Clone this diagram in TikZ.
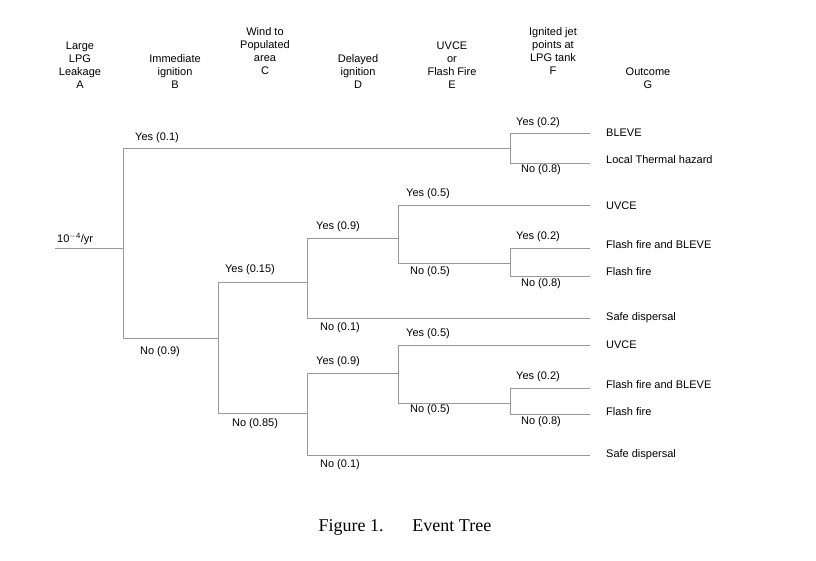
\documentclass[tikz,border=0pt]{standalone}
\usepackage{fontspec}
\setmainfont{Liberation Sans}
\newfontfamily\capfont{Liberation Serif}
\begin{document}
\begin{tikzpicture}[x=1pt,y=-1pt,
  br/.style={draw=gray!80,line width=0.6pt},
  hd/.style={align=center,font=\fontsize{11}{13}\selectfont,anchor=south,inner sep=1pt},
  lb/.style={font=\fontsize{11}{12}\selectfont,inner sep=1pt},
  yes/.style={lb,anchor=south},
  no/.style={lb,anchor=north},
  res/.style={lb,anchor=west}]
\useasboundingbox (0,0) rectangle (816,560);
% headers
\node[hd] (hA) at (80,90) {Large\\LPG\\Leakage\\A};
\node[hd] (hB) at (175,90) {Immediate\\ignition\\B};
\node[hd] (hC) at (265,76) {Wind to\\Populated\\area\\C};
\node[hd] (hD) at (358,90) {Delayed\\ignition\\D};
\node[hd] (hE) at (452,90) {UVCE\\or\\Flash Fire\\E};
\node[hd] (hF) at (553,76) {Ignited jet\\points at\\LPG tank\\F};
\node[hd] (hG) at (648,90) {Outcome\\G};
% coordinates
\coordinate (s) at (55,248);
\coordinate (a) at (123,248);
\coordinate (a1) at (123,148); \coordinate (a2) at (123,338);
\coordinate (f1) at (510,148); \coordinate (f1a) at (510,133); \coordinate (f1b) at (510,163);
\coordinate (c) at (218,338); \coordinate (c1) at (218,282); \coordinate (c2) at (218,413);
\coordinate (d1) at (307,282); \coordinate (d1a) at (307,238); \coordinate (d1b) at (307,318);
\coordinate (e1) at (398,238); \coordinate (e1a) at (398,205); \coordinate (e1b) at (398,263);
\coordinate (g1) at (510,263); \coordinate (g1a) at (510,248); \coordinate (g1b) at (510,276);
\coordinate (d2) at (307,413); \coordinate (d2a) at (307,373); \coordinate (d2b) at (307,455);
\coordinate (e2) at (398,373); \coordinate (e2a) at (398,345); \coordinate (e2b) at (398,403);
\coordinate (g2) at (510,403); \coordinate (g2a) at (510,388); \coordinate (g2b) at (510,414);
% outcomes
\node[res] (o1) at (605,133) {BLEVE};
\node[res] (o2) at (605,160) {Local Thermal hazard};
\node[res] (o3) at (605,206) {UVCE};
\node[res] (o4) at (605,245) {Flash fire and BLEVE};
\node[res] (o5) at (605,272) {Flash fire};
\node[res] (o6) at (605,318) {Safe dispersal};
\node[res] (o7) at (605,345) {UVCE};
\node[res] (o8) at (605,385) {Flash fire and BLEVE};
\node[res] (o9) at (605,412) {Flash fire};
\node[res] (o10) at (605,455) {Safe dispersal};
% branches
\draw[br] (s) -- (a) (a1) -- (a2);
\draw[br] (a1) -- (f1) (f1a) -- (f1b) (f1a) -- (590,133) (f1b) -- (590,163);
\draw[br] (a2) -- (c) (c1) -- (c2) (c1) -- (d1) (d1a) -- (d1b);
\draw[br] (d1a) -- (e1) (e1a) -- (e1b) (e1a) -- (590,205) (e1b) -- (g1) (g1a) -- (g1b)
  (g1a) -- (590,248) (g1b) -- (590,276) (d1b) -- (590,318);
\draw[br] (c2) -- (d2) (d2a) -- (d2b) (d2a) -- (e2) (e2a) -- (e2b) (e2a) -- (590,345)
  (e2b) -- (g2) (g2a) -- (g2b) (g2a) -- (590,388) (g2b) -- (590,414) (d2b) -- (590,455);
% labels
\node[lb,anchor=south west] (l0) at (56,246) {10$^{\mathrm{-4}}$/yr};
\node[yes] (y1) at (157,144) {Yes (0.1)};
\node[no] (n1) at (160,345) {No (0.9)};
\node[yes] (y2) at (250,276) {Yes (0.15)};
\node[no] (n2) at (255,417) {No (0.85)};
\node[yes] (y3) at (338,233) {Yes (0.9)};
\node[no] (n3) at (340,321) {No (0.1)};
\node[yes] (y4) at (338,368) {Yes (0.9)};
\node[no] (n4) at (340,458) {No (0.1)};
\node[yes] (y5) at (428,200) {Yes (0.5)};
\node[no] (n5) at (430,265) {No (0.5)};
\node[yes] (y6) at (428,340) {Yes (0.5)};
\node[no] (n6) at (430,403) {No (0.5)};
\node[yes] (y7) at (538,129) {Yes (0.2)};
\node[no] (n7) at (541,163) {No (0.8)};
\node[yes] (y8) at (538,243) {Yes (0.2)};
\node[no] (n8) at (541,277) {No (0.8)};
\node[yes] (y9) at (538,383) {Yes (0.2)};
\node[no] (n9) at (541,415) {No (0.8)};
\node[font=\capfont\fontsize{18}{20}\selectfont] (cap) at (405,527) {Figure 1.\hspace{1.6em}Event Tree};
\end{tikzpicture}
\end{document}
